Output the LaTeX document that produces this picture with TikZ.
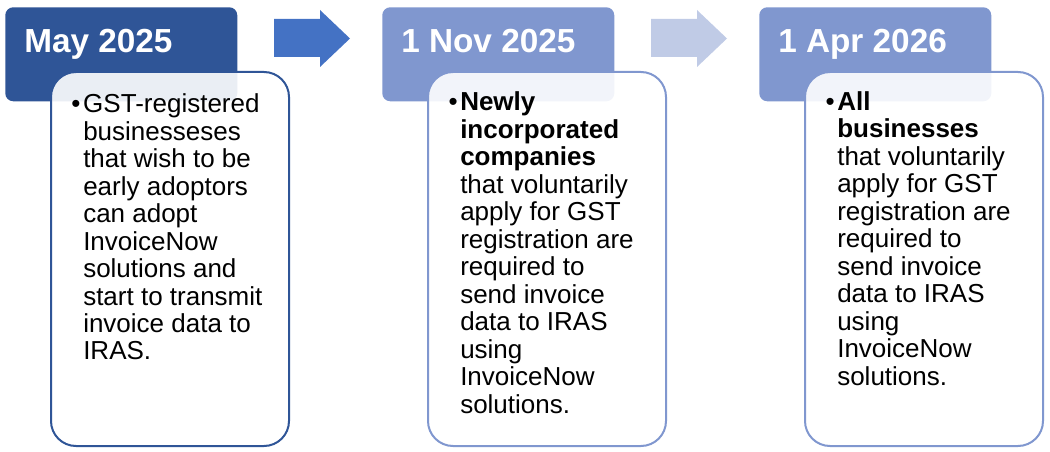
\documentclass[tikz,border=0pt]{standalone}
\usepackage{fontspec}
\setmainfont{Liberation Sans}
\definecolor{dkblue}{HTML}{2F5597}
\definecolor{ltblue}{HTML}{8097CF}
\definecolor{arrowA}{HTML}{4472C4}
\definecolor{arrowB}{HTML}{C0CBE6}
\begin{document}
\begin{tikzpicture}[x=0.75pt,y=-0.75pt,
  hdr/.style={anchor=north west, rounded corners=6pt, inner sep=0pt, minimum width=174pt, minimum height=70.5pt},
  hdrtext/.style={anchor=base west, inner sep=0pt, text=white, font=\fontsize{25}{30}\selectfont\bfseries},
  card/.style={anchor=north west, rounded corners=18.75pt, inner sep=0pt, minimum width=178.5pt, minimum height=280.5pt, line width=1.5pt, fill=white, fill opacity=0.9},
  body/.style={anchor=base west, inner sep=0pt, align=left, text=black, font=\fontsize{19.5}{20.6}\selectfont}]
\useasboundingbox (0,0) rectangle (1050,452);
% headers
\node[hdr, fill=dkblue] (h1) at (5,7) {};
\node[hdr, fill=ltblue] (h2) at (382,7) {};
\node[hdr, fill=ltblue] (h3) at (759,7) {};
\node[hdrtext] (t1) at (24,53) {May 2025};
\node[hdrtext] (t2) at (401,53) {1 Nov 2025};
\node[hdrtext] (t3) at (778,53) {1 Apr 2026};
% arrows
\fill[arrowA] (274,19) -- (320,19) -- (320,10) -- (350,38.5) -- (320,67) -- (320,57) -- (274,57) -- cycle;
\fill[arrowB] (651,19) -- (697,19) -- (697,10) -- (727,38.5) -- (697,67) -- (697,57) -- (651,57) -- cycle;
% cards
\node[card, draw=dkblue] (c1) at (50,71) {};
\node[card, draw=ltblue] (c2) at (427,71) {};
\node[card, draw=ltblue] (c3) at (804,71) {};
% body text (anchored at the baseline of the last line)
\node[body] (b1) at (83,360) {\llap{•\hspace{2pt}}GST-registered\\businesseses\\that wish to be\\early adoptors\\can adopt\\InvoiceNow\\solutions and\\start to transmit\\invoice data to\\IRAS.};
\node[body] (b2) at (460,413) {\llap{•\hspace{2pt}}\textbf{Newly}\\\textbf{incorporated}\\\textbf{companies}\\that voluntarily\\apply for GST\\registration are\\required to\\send invoice\\data to IRAS\\using\\InvoiceNow\\solutions.};
\node[body] (b3) at (837,385) {\llap{•\hspace{2pt}}\textbf{All}\\\textbf{businesses}\\that voluntarily\\apply for GST\\registration are\\required to\\send invoice\\data to IRAS\\using\\InvoiceNow\\solutions.};
\end{tikzpicture}
\end{document}
